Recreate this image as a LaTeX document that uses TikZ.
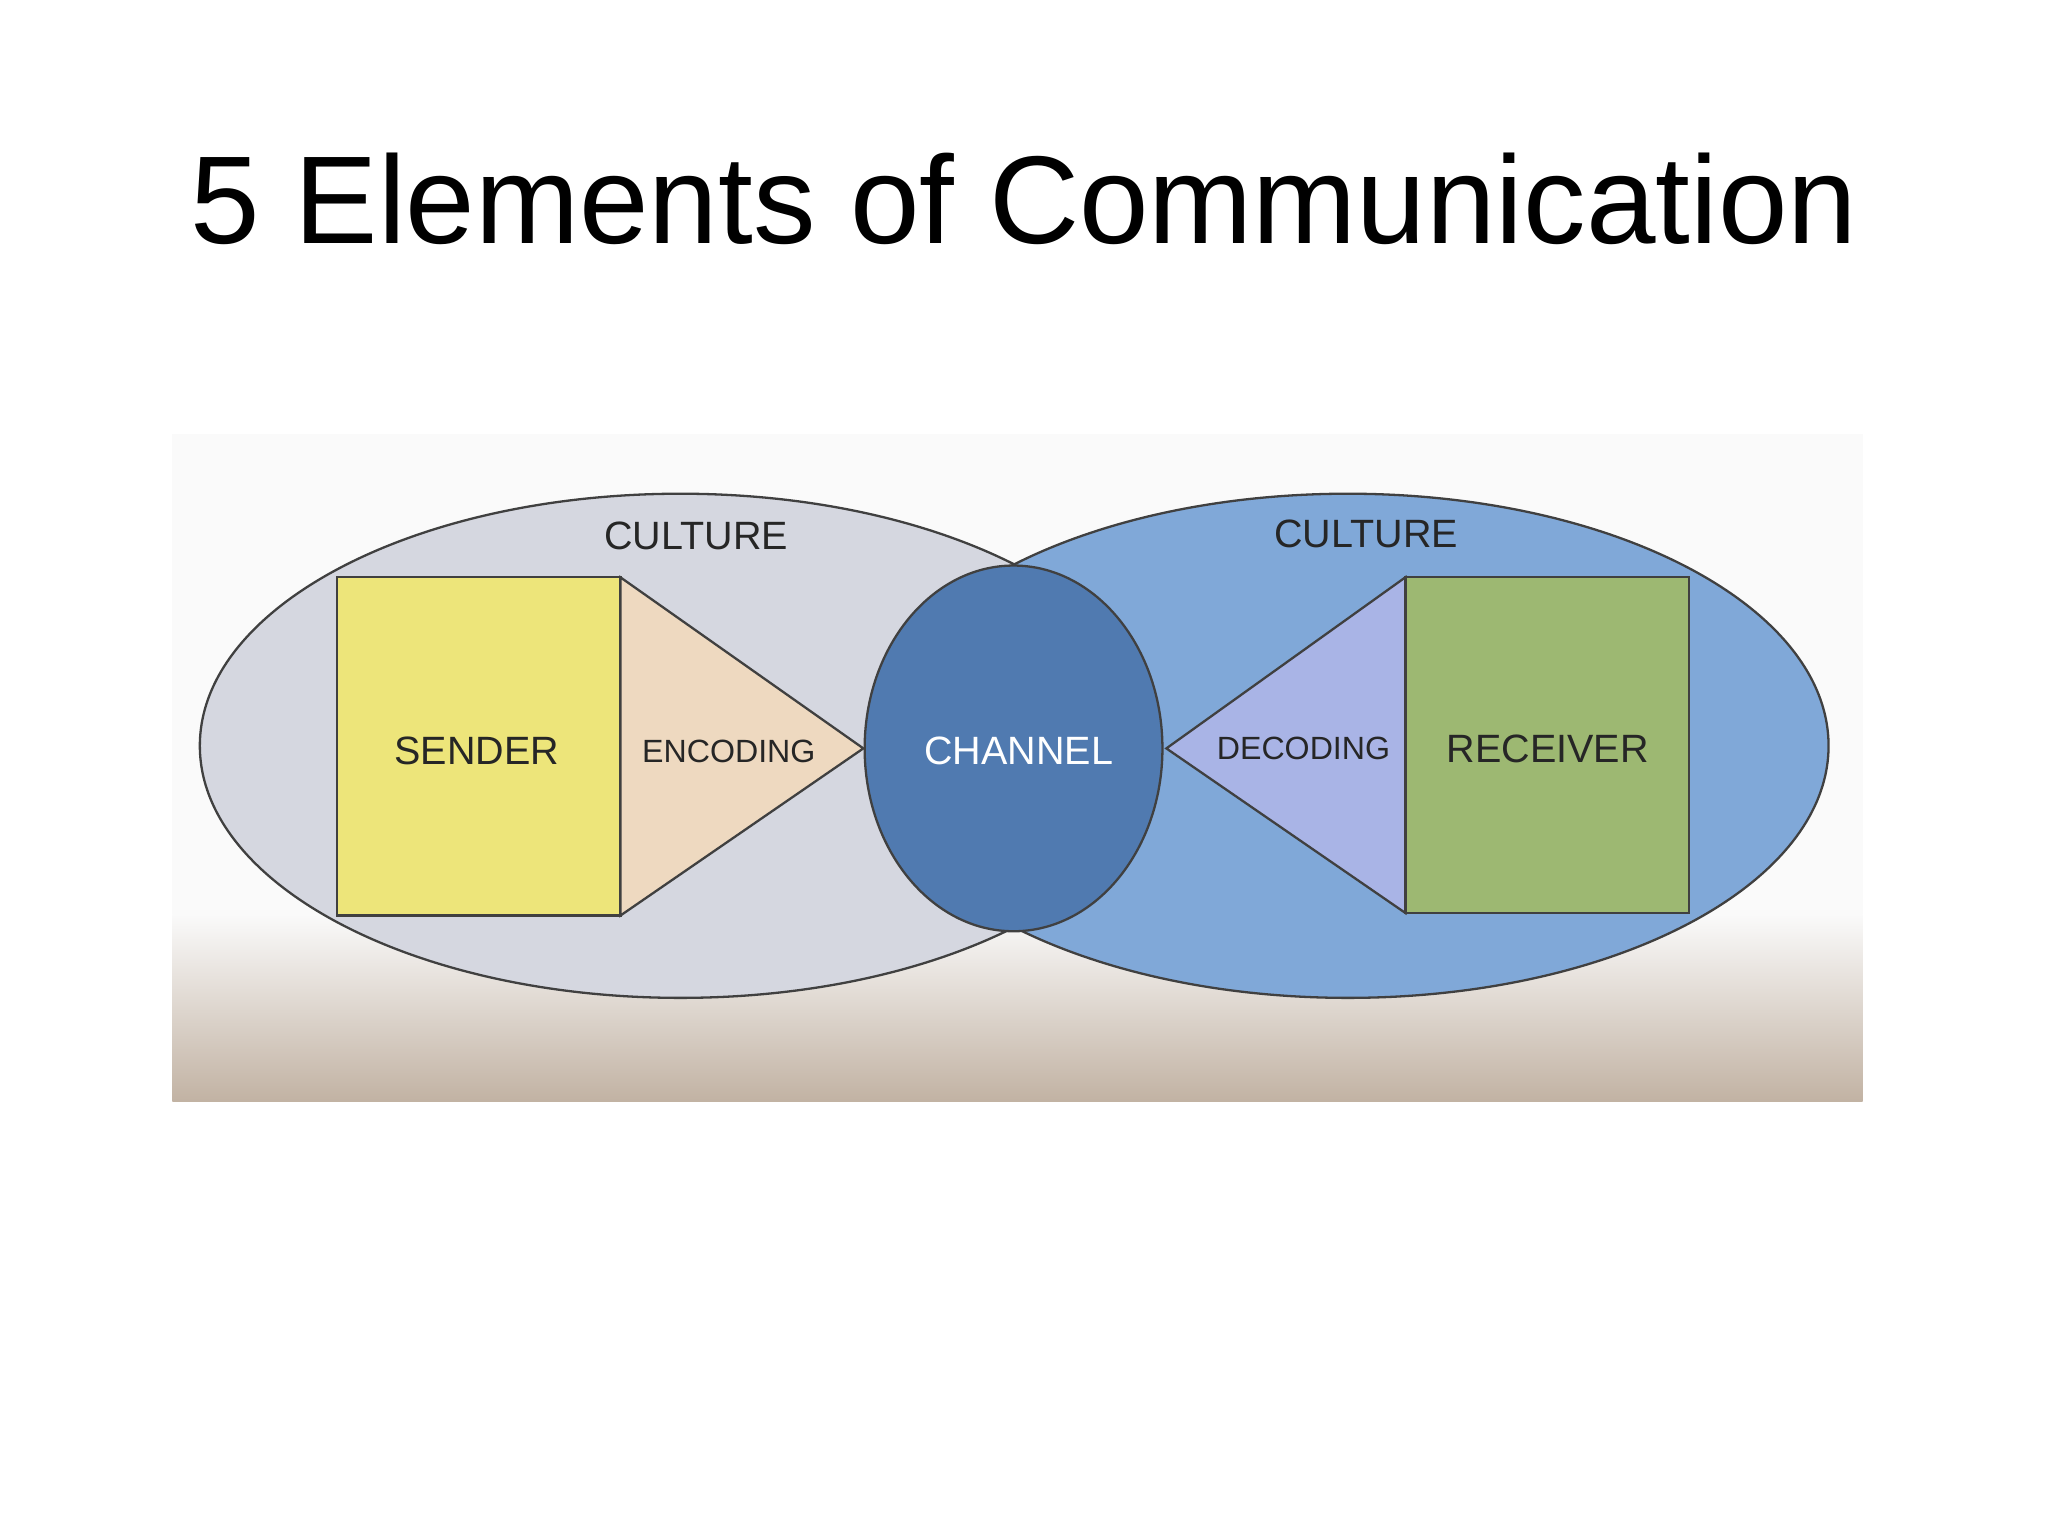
\documentclass[tikz,border=0pt]{standalone}
\usepackage{fontspec}
\setmainfont{Liberation Sans}
\begin{document}
\begin{tikzpicture}[x=0.01cm,y=-0.01cm,
  lab/.style={font=\fontsize{8.6}{10}\selectfont, text=black!85},
  slab/.style={font=\fontsize{7}{8}\selectfont, text=black!85},
  edge/.style={draw=black!75, line width=0.5pt}]
\useasboundingbox (0,0) rectangle (1568,1176);
\fill[white] (0,0) rectangle (1568,1176);
\node[font=\fontsize{27.2}{32}\selectfont] (title) at (784,152) {5 Elements of Communication};
% panel
\fill[white!96!gray] (132,332) rectangle (1426,700);
\shade[top color=white!96!gray, bottom color=brown!40!gray!60] (132,700) rectangle (1426,843);
% ellipses
\path[edge, fill={rgb,255:red,213;green,215;blue,224}] (521,571) ellipse [x radius=368, y radius=193];
\path[edge, fill={rgb,255:red,128;green,168;blue,216}] (1032,571) ellipse [x radius=368, y radius=193];
\path[edge, fill={rgb,255:red,80;green,122;blue,176}] (776,573) ellipse [x radius=114, y radius=140];
% sender / encoding
\path[edge, fill={rgb,255:red,237;green,229;blue,122}] (258,442) rectangle (475,701);
\path[edge, fill={rgb,255:red,238;green,217;blue,192}] (475,442) -- (661,573) -- (475,701) -- cycle;
% receiver / decoding
\path[edge, fill={rgb,255:red,157;green,184;blue,114}] (1076,442) rectangle (1293,699);
\path[edge, fill={rgb,255:red,169;green,180;blue,230}] (1076,442) -- (893,573) -- (1076,699) -- cycle;
% labels
\node[lab] (c1) at (533,410) {CULTURE};
\node[lab] (c2) at (1046,409) {CULTURE};
\node[lab] (snd) at (365,575) {SENDER};
\node[slab] (enc) at (558,575) {ENCODING};
\node[lab, text=white] (ch) at (780,575) {CHANNEL};
\node[slab] (dec) at (998,573) {DECODING};
\node[lab] (rcv) at (1185,573) {RECEIVER};
\end{tikzpicture}
\end{document}
